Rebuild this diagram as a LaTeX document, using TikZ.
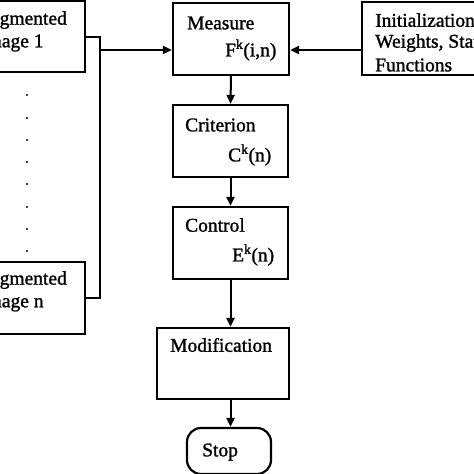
\documentclass[tikz,border=0pt]{standalone}
\usepackage{fontspec}
\setmainfont{Liberation Serif}[BoldFont={Liberation Serif},BoldFeatures={FakeBold=1.3}]
\usetikzlibrary{arrows.meta}
\begin{document}
\begin{tikzpicture}[x=1pt,y=-1pt,
  box/.style={draw,line width=2.2pt,inner sep=0pt},
  lbl/.style={anchor=west,inner sep=0pt,font=\fontsize{19.5}{22}\selectfont\bfseries},
  conn/.style={line width=2pt},
  arr/.style={line width=2pt,-{Triangle[length=9pt,width=8pt]}},
  dot/.style={fill,circle,inner sep=0pt,minimum size=2.4pt}]
\useasboundingbox (0,0) rectangle (474,474);
\clip (0,0) rectangle (474,474);
% boxes
\node[box,minimum width=115pt,minimum height=71pt] (seg1) at (27.5,36.5) {};
\node[box,minimum width=115pt,minimum height=72pt] (segn) at (27.5,298) {};
\node[box,minimum width=116pt,minimum height=72pt] (meas) at (231,39) {};
\node[box,minimum width=140pt,minimum height=73pt] (init) at (432,38.5) {};
\node[box,minimum width=115pt,minimum height=72pt] (crit) at (230.5,141) {};
\node[box,minimum width=115pt,minimum height=72pt] (ctrl) at (230.5,243) {};
\node[box,minimum width=132pt,minimum height=71pt] (mod) at (223,363.5) {};
\node[box,rounded corners=14pt,minimum width=84pt,minimum height=46pt] (stop) at (229,451) {};
% texts
\node[lbl] (t1a) at (-20,20) {Segmented};
\node[lbl] (t1b) at (-20,43) {Image 1};
\node[lbl] (tna) at (-20,280) {Segmented};
\node[lbl] (tnb) at (-20,303) {Image n};
\node[lbl] (tma) at (187,23) {Measure};
\node[lbl] (tmb) at (225,50) {F\textsuperscript{k}(i,n)};
\node[lbl] (tia) at (375,20) {Initialization of};
\node[lbl] (tib) at (375,43) {Weights, States};
\node[lbl] (tic) at (375,65) {Functions};
\node[lbl] (tca) at (185,125) {Criterion};
\node[lbl] (tcb) at (228,155) {C\textsuperscript{k}(n)};
\node[lbl] (tea) at (185,225) {Control};
\node[lbl] (teb) at (232,255) {E\textsuperscript{k}(n)};
\node[lbl] (tmo) at (170,345) {Modification};
\node[lbl] (tst) at (202,452) {Stop};
% dots
\foreach \yy [count=\i] in {95,118,140,162,184,207,229,251}
  \node[dot] (d\i) at (27,\yy) {};
% connectors
\coordinate (j1) at (100,36.5);
\coordinate (jn) at (100,298);
\coordinate (jm) at (100,50);
\coordinate (ji) at (362,50);
\draw[conn] (seg1.east) -- (j1) -- (jn) -- (segn.east);
\draw[arr] (jm) -- (meas.west |- jm);
\draw[arr] (init.west |- ji) -- (meas.east |- ji);
\draw[arr] (meas.south) -- (crit.north);
\draw[arr] (crit.south) -- (ctrl.north);
\draw[arr] (ctrl.south) -- (ctrl.south |- mod.north);
\draw[arr] (ctrl.south |- mod.south) -- (ctrl.south |- stop.north);
\end{tikzpicture}
\end{document}
